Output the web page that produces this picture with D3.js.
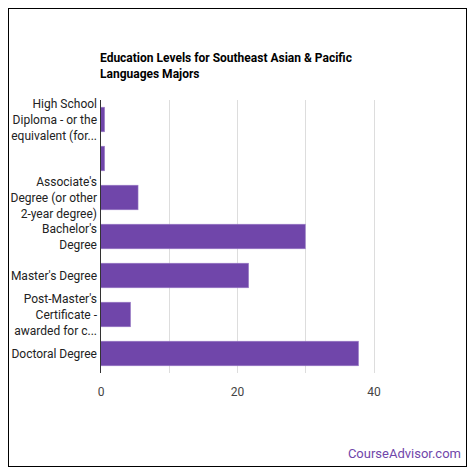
<!DOCTYPE html>
<html>
<head>
<meta charset="utf-8">
<script src="https://cdn.jsdelivr.net/npm/d3@7"></script>
<style>
  body { margin: 0; background: #fff; }
  text { font-family: Roboto, "Noto Sans", sans-serif; }
</style>
</head>
<body>
<div id="chart"></div>
<script>
// Chart data
const categories = [
  "High School Diploma - or the equivalent (for example: GED)",
  "Postsecondary Certificate",
  "Associate's Degree (or other 2-year degree)",
  "Bachelor's Degree",
  "Master's Degree",
  "Post-Master's Certificate - awarded for completion",
  "Doctoral Degree"
];
// label text as it is shown (wrapped / truncated), empty when hidden
const labelLines = [
  ["High School", "Diploma - or the", "equivalent (for..."],
  [],
  ["Associate's", "Degree (or other", "2-year degree)"],
  ["Bachelor's", "Degree"],
  ["Master's Degree"],
  ["Post-Master's", "Certificate -", "awarded for c..."],
  ["Doctoral Degree"]
];
const values = [0.6, 0.6, 5.5, 30.0, 21.7, 4.4, 37.8];
const xTicks = [0, 20, 40];
const gridTicks = [0, 10, 20, 30, 40];
const title = ["Education Levels for Southeast Asian & Pacific", "Languages Majors"];

const W = 476, H = 476;
const svg = d3.select('#chart').append('svg')
  .attr('width', W)
  .attr('height', H);

// frame
svg.append('rect')
  .attr('x', 8.5).attr('y', 8.5)
  .attr('width', 458).attr('height', 458)
  .attr('fill', '#fff')
  .attr('stroke', '#000')
  .attr('stroke-width', 1);

// title
svg.append('text')
  .attr('x', 100)
  .attr('y', 62)
  .attr('font-size', '12px')
  .attr('font-weight', 'bold')
  .attr('fill', '#000')
  .selectAll('tspan')
  .data(title)
  .enter().append('tspan')
  .attr('x', 100)
  .attr('dy', (d, i) => i === 0 ? 0 : 16)
  .text(d => d);

const plotLeft = 100.5, plotTop = 100, plotBottom = 373;

const xScale = d3.scaleLinear()
  .domain([0, 50])
  .range([plotLeft, plotLeft + 341.25]);

const yScale = d3.scaleBand()
  .domain(categories)
  .range([plotTop, plotBottom])
  .paddingInner(0.37)
  .paddingOuter(0.185);

// gridlines
svg.append('g')
  .selectAll('line')
  .data(gridTicks.filter(d => d > 0))
  .enter().append('line')
  .attr('x1', d => Math.round(xScale(d)) + 0.5)
  .attr('x2', d => Math.round(xScale(d)) + 0.5)
  .attr('y1', plotTop)
  .attr('y2', plotBottom)
  .attr('stroke', '#ddd')
  .attr('stroke-width', 1);

// bars
svg.append('g')
  .selectAll('rect')
  .data(values)
  .enter().append('rect')
  .attr('x', xScale(0))
  .attr('y', (d, i) => yScale(categories[i]))
  .attr('width', d => xScale(d) - xScale(0))
  .attr('height', yScale.bandwidth())
  .attr('fill', '#7046aa')
  .attr('stroke', '#9a7cc6')
  .attr('stroke-width', 0.6);

// x axis (labels only)
const xAxis = svg.append('g')
  .attr('transform', `translate(0,${plotBottom})`)
  .call(d3.axisBottom(xScale).tickValues(xTicks).tickSize(0).tickPadding(14).tickFormat(d3.format('d')));
xAxis.select('.domain').remove();
xAxis.selectAll('text')
  .attr('font-size', '12px')
  .attr('font-family', 'Roboto, sans-serif')
  .attr('fill', '#444');

// y axis line
svg.append('line')
  .attr('x1', plotLeft).attr('x2', plotLeft)
  .attr('y1', plotTop).attr('y2', plotBottom)
  .attr('stroke', '#333')
  .attr('stroke-width', 1);

// category labels
const lineH = 16;
const labels = svg.append('g');
categories.forEach((c, i) => {
  const lines = labelLines[i];
  if (!lines.length) return;
  const cy = yScale(c) + yScale.bandwidth() / 2;
  const y0 = cy - (lines.length - 1) * lineH / 2 + 4.5;
  const t = labels.append('text')
    .attr('text-anchor', 'end')
    .attr('font-size', '12px')
    .attr('fill', '#222');
  lines.forEach((l, j) => {
    t.append('tspan')
      .attr('x', 97)
      .attr('y', y0 + j * lineH)
      .text(l);
  });
});

// source
svg.append('text')
  .attr('x', 461)
  .attr('y', 458)
  .attr('text-anchor', 'end')
  .attr('font-size', '13px')
  .attr('fill', '#7046aa')
  .text('CourseAdvisor.com');
</script>
</body>
</html>
